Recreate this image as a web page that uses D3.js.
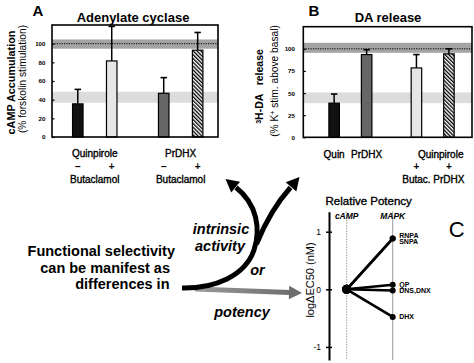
<!DOCTYPE html>
<html><head><meta charset="utf-8">
<script src="https://cdn.jsdelivr.net/npm/d3@7"></script>
<style>
body{margin:0;background:#fff}
svg{display:block}
text{font-family:"Liberation Sans",Arial,Helvetica,sans-serif;fill:#000}
.semi{stroke:#000;stroke-width:0.35px}
</style>
</head><body>
<svg id="c" width="474" height="363"></svg>
<script>
// ---------------- DATA ----------------
// Panel A: Adenylate cyclase (cAMP accumulation, % forskolin stimulation)
const groupsA   = ["Quinpirole", "Quinpirole", "PrDHX", "PrDHX"];
const butacA    = ["–", "+", "–", "+"];
const valuesA   = [35.5, 81.5, 46.8, 93];
const errorsA   = [15.5, 37, 16.8, 19];
const ticksA    = [0, 20, 40, 60, 80, 100];
const bandLowA  = [36.7, 48.5];
const bandHighA = [94.6, 104.5];

// Panel B: DA release (% K+ stim. above basal)
const groupsB   = ["single", "single", "Quinpirole", "Quinpirole"];
const labelsB   = ["Quin", "PrDHX", "+", "+"];
const subLabelsB= ["", "", "Butac.", "PrDHX"];
const valuesB   = [38.6, 93.5, 78.4, 94.3];
const errorsB   = [10.3, 5.5, 15.1, 5.7];
const ticksB    = [0, 25, 50, 75, 100];
const bandLowB  = [38.6, 50.7];
const bandHighB = [95.5, 106.8];

// Panel C: Relative potency (logΔEC50, nM)
const assaysC   = ["cAMP", "MAPK"];
const compoundsC= ["RNPA", "SNPA", "QP", "DNS,DNX", "DHX"];
const campC     = [0, 0, 0, 0, 0];
const mapkC     = [0.88, 0.88, 0.08, -0.02, -0.48];
const ticksC    = [-1, 0, 1];

// ---------------- STYLE ----------------
const FONT = '"Liberation Sans",Arial,Helvetica,sans-serif';
const fillsA = ["#111", "#e6e6e6", "#666", "url(#hatch)"];
const fillsB = ["#111", "#666", "#e6e6e6", "url(#hatch)"];

const svg = d3.select("#c");
const defs = svg.append("defs");
const pat = defs.append("pattern").attr("id", "hatch")
  .attr("patternUnits", "userSpaceOnUse").attr("width", 2.7).attr("height", 2.7)
  .attr("patternTransform", "rotate(-45)");
pat.append("rect").attr("width", 2.7).attr("height", 2.7).attr("fill", "#fff");
pat.append("line").attr("x1", 0.65).attr("y1", 0).attr("x2", 0.65).attr("y2", 2.7)
  .attr("stroke", "#000").attr("stroke-width", 1.3);

const grad = defs.append("linearGradient").attr("id", "gpot")
  .attr("x1", "0%").attr("x2", "100%").attr("y1", "0%").attr("y2", "0%");
grad.append("stop").attr("offset", "0%").attr("stop-color", "#9a9a9a");
grad.append("stop").attr("offset", "100%").attr("stop-color", "#6e6e6e");

function barPanel(cfg) {
  const g = svg.append("g");
  const y = d3.scaleLinear().domain([0, cfg.ymax]).range([cfg.bottom, cfg.top]);
  const uniq = Array.from(new Set(cfg.groups));
  const outer = d3.scalePoint().domain(uniq).range([cfg.left, cfg.right])
    .padding(cfg.pad).align(cfg.align);
  const inner = d3.scalePoint().domain([0, 1])
    .range([-outer.step() * 0.395 / 2, outer.step() * 0.395 / 2]);
  const idx = cfg.groups.map((gr, i) => cfg.groups.slice(0, i).filter(v => v === gr).length);
  const xs = cfg.values.map((v, i) => outer(cfg.groups[i]) + inner(idx[i]));
  const bw = 10.5;

  // bands
  g.append("rect").attr("x", cfg.left).attr("width", cfg.right - cfg.left)
    .attr("y", y(cfg.bandHigh[1])).attr("height", y(cfg.bandHigh[0]) - y(cfg.bandHigh[1]))
    .attr("fill", "#a4a4a4");
  g.append("rect").attr("x", cfg.left).attr("width", cfg.right - cfg.left)
    .attr("y", y(cfg.bandLow[1])).attr("height", y(cfg.bandLow[0]) - y(cfg.bandLow[1]))
    .attr("fill", "#dcdcdc");
  g.append("line").attr("x1", cfg.left).attr("x2", cfg.right)
    .attr("y1", y(100)).attr("y2", y(100))
    .attr("stroke", "#000").attr("stroke-width", 1).attr("stroke-dasharray", "1.2,1.2");

  // error bars
  cfg.values.forEach((v, i) => {
    g.append("line").attr("x1", xs[i]).attr("x2", xs[i]).attr("y1", y(v))
      .attr("y2", y(v + cfg.errors[i])).attr("stroke", "#000").attr("stroke-width", 1.5);
    g.append("line").attr("x1", xs[i] - 3.2).attr("x2", xs[i] + 3.2)
      .attr("y1", y(v + cfg.errors[i])).attr("y2", y(v + cfg.errors[i]))
      .attr("stroke", "#000").attr("stroke-width", 1.6);
  });
  // bars
  g.selectAll("rect.bar").data(cfg.values).join("rect").attr("class", "bar")
    .attr("x", (d, i) => xs[i] - bw / 2).attr("width", bw)
    .attr("y", d => y(d)).attr("height", d => y(0) - y(d))
    .attr("fill", (d, i) => cfg.fills[i]).attr("stroke", "#000").attr("stroke-width", 1.2);

  // frame
  g.append("rect").attr("x", cfg.left).attr("y", cfg.top)
    .attr("width", cfg.right - cfg.left).attr("height", cfg.bottom - cfg.top)
    .attr("fill", "none").attr("stroke", "#000").attr("stroke-width", 1.6);

  // axis
  const ax = g.append("g").attr("transform", `translate(${cfg.left},0)`)
    .call(d3.axisLeft(y).tickValues(cfg.ticks).tickSizeInner(-2.5).tickSizeOuter(0)
      .tickPadding(cfg.tickPad).tickFormat(d => String(d)));
  ax.select(".domain").remove();
  ax.selectAll("line").attr("stroke", "#000").attr("stroke-width", 1.2);
  ax.selectAll("text").attr("font-family", FONT).attr("font-size", 6.2)
    .attr("font-weight", "bold").attr("fill", "#000");
  return { g, xs, outer, y };
}

// ---------------- PANEL A ----------------
const A = barPanel({ left: 52, right: 218, top: 25, bottom: 137, ymax: 120,
  ticks: ticksA, groups: groupsA, values: valuesA, errors: errorsA, fills: fillsA,
  bandLow: bandLowA, bandHigh: bandHighA, pad: 0.466, align: 0.534, tickPad: 6.5 });
Array.from(new Set(groupsA)).forEach(gr => {
  svg.append("text").attr("class", "semi").attr("x", A.outer(gr)).attr("y", 156.5).attr("text-anchor", "middle")
    .attr("font-size", 10).text(gr);
  svg.append("text").attr("class", "semi").attr("x", A.outer(gr)).attr("y", 182.5).attr("text-anchor", "middle")
    .attr("font-size", 10).text("Butaclamol");
});
butacA.forEach((s, i) => svg.append("text").attr("x", A.xs[i]).attr("y", 169.5)
  .attr("text-anchor", "middle").attr("font-size", 10).attr("font-weight", "bold").text(s));
svg.append("text").attr("x", 133).attr("y", 21.5).attr("text-anchor", "middle")
  .attr("font-size", 13).attr("font-weight", "bold").text("Adenylate cyclase");
svg.append("text").attr("x", 38).attr("y", 16).attr("text-anchor", "middle")
  .attr("font-size", 15).attr("font-weight", "bold").text("A");
svg.append("text").attr("transform", "translate(14.5,82.5) rotate(-90)").attr("text-anchor", "middle")
  .attr("font-size", 10.8).attr("font-weight", "bold").text("cAMP Accumulation");
svg.append("text").attr("transform", "translate(25.8,79) rotate(-90)").attr("text-anchor", "middle")
  .attr("font-size", 10.2).text("(% forskolin stimulation)");

// ---------------- PANEL B ----------------
const B = barPanel({ left: 303.3, right: 472, top: 26.7, bottom: 137.3, ymax: 125,
  ticks: ticksB, groups: groupsB, values: valuesB, errors: errorsB, fills: fillsB,
  bandLow: bandLowB, bandHigh: bandHighB, pad: 0.525, align: 0.545, tickPad: 8.3 });
labelsB.forEach((s, i) => {
  const isSub = subLabelsB[i] !== "";
  svg.append("text").attr("class", isSub ? null : "semi").attr("x", B.xs[i]).attr("y", isSub ? 169.5 : 158)
    .attr("text-anchor", "middle").attr("font-size", 10)
    .attr("font-weight", isSub ? "bold" : "normal").text(s);
  if (isSub) svg.append("text").attr("class", "semi").attr("x", B.xs[i]).attr("y", 183)
    .attr("text-anchor", "middle").attr("font-size", 10).text(subLabelsB[i]);
});
svg.append("text").attr("class", "semi").attr("x", B.outer("Quinpirole") + 8).attr("y", 158)
  .attr("text-anchor", "middle").attr("font-size", 10).text("Quinpirole");
svg.append("text").attr("x", 388).attr("y", 21.5).attr("text-anchor", "middle")
  .attr("font-size", 13).attr("font-weight", "bold").text("DA release");
svg.append("text").attr("x", 314).attr("y", 15.5).attr("text-anchor", "middle")
  .attr("font-size", 15).attr("font-weight", "bold").text("B");
{
  const t = svg.append("text").attr("transform", "translate(263,86.5) rotate(-90)")
    .attr("text-anchor", "middle").attr("font-size", 10.5).attr("font-weight", "bold")
    .style("white-space", "pre");
  t.append("tspan").attr("font-size", 7).attr("baseline-shift", "35%").text("3");
  t.append("tspan").text("H-DA   release");
  const t2 = svg.append("text").attr("transform", "translate(277.5,81) rotate(-90)")
    .attr("text-anchor", "middle").attr("font-size", 10.2);
  t2.append("tspan").text("(% K");
  t2.append("tspan").attr("font-size", 7).attr("baseline-shift", "40%").text("+");
  t2.append("tspan").text(" stim. above basal)");
}

// ---------------- PANEL C ----------------
const yC = d3.scaleLinear().domain([-1.227, 1.347]).range([360, 211.7]);
const xC = d3.scalePoint().domain(assaysC).range([346.7, 392.7]);
const axC = 329;
assaysC.forEach(a => {
  svg.append("line").attr("x1", xC(a)).attr("x2", xC(a)).attr("y1", 211.5).attr("y2", 360)
    .attr("stroke", "#9a9a9a").attr("stroke-width", 1)
    .attr("stroke-dasharray", a === "cAMP" ? "1.5,1.2" : null);
  svg.append("text").attr("x", xC(a)).attr("y", 219.3).attr("text-anchor", "middle")
    .attr("font-size", 8.5).attr("font-weight", "bold").attr("font-style", "italic").text(a);
});
const axisC = svg.append("g").attr("transform", `translate(${axC},0)`)
  .call(d3.axisLeft(yC).tickValues(ticksC).tickSizeInner(3).tickSizeOuter(0)
    .tickPadding(5).tickFormat(d => String(d)));
axisC.select(".domain").attr("stroke", "#000").attr("stroke-width", 2);
axisC.selectAll(".tick line").attr("x1", 3).attr("stroke", "#000").attr("stroke-width", 1.5);
axisC.selectAll("text").attr("font-family", FONT).attr("font-size", 8.5).attr("fill", "#000");

compoundsC.forEach((c, i) => {
  svg.append("line").attr("x1", xC("cAMP")).attr("y1", yC(campC[i]))
    .attr("x2", xC("MAPK")).attr("y2", yC(mapkC[i]))
    .attr("stroke", "#000").attr("stroke-width", 2.6);
});
compoundsC.forEach((c, i) => {
  svg.append("circle").attr("cx", xC("cAMP")).attr("cy", yC(campC[i])).attr("r", 4.6).attr("fill", "#000");
  svg.append("circle").attr("cx", xC("MAPK")).attr("cy", yC(mapkC[i])).attr("r", 3).attr("fill", "#000");
});
// labels with simple collision spreading
{
  const labs = compoundsC.map((c, i) => ({ c, y: yC(mapkC[i]) })).sort((a, b) => a.y - b.y);
  const minGap = 5.5;
  let groups = [];
  labs.forEach(l => {
    const last = groups[groups.length - 1];
    if (last && Math.abs(last[last.length - 1].y - l.y) < 0.5) last.push(l); else groups.push([l]);
  });
  groups.forEach(gr => {
    const m = d3.mean(gr, d => d.y);
    gr.forEach((l, k) => {
      svg.append("text").attr("x", xC("MAPK") + 6.5).attr("y", m + (k - (gr.length - 1) / 2) * minGap)
        .attr("dy", "0.35em").attr("font-size", 7).attr("font-weight", "bold").text(l.c);
    });
  });
}
svg.append("text").attr("class", "semi").attr("x", 368.7).attr("y", 205).attr("text-anchor", "middle")
  .attr("font-size", 11.5).text("Relative Potency");
svg.append("text").attr("x", 456.7).attr("y", 236.5).attr("text-anchor", "middle")
  .attr("font-size", 22).text("C");
svg.append("text").attr("transform", "translate(313.5,280) rotate(-90)").attr("text-anchor", "middle")
  .attr("font-size", 11).text("logΔEC50 (nM)");

// ---------------- SCHEMATIC ----------------
function arrowHead(tip, from, len, half, fill) {
  const dx = tip[0] - from[0], dy = tip[1] - from[1];
  const L = Math.hypot(dx, dy), ux = dx / L, uy = dy / L;
  const bx = tip[0] - ux * len, by = tip[1] - uy * len;
  svg.append("path").attr("d",
    `M${tip[0]},${tip[1]} L${bx - uy * half},${by + ux * half} L${bx + uy * half},${by - ux * half} Z`)
    .attr("fill", fill);
}
// potency (gray)
svg.append("path").attr("d", "M195,289 L290,292.6").attr("stroke", "url(#gpot)")
  .attr("stroke-width", 5).attr("fill", "none");
arrowHead([302, 293], [290, 292.6], 13, 6.8, "#6e6e6e");
// intrinsic activity (black, forked)
svg.append("path").attr("d", "M182,288 C215,288.5 245,276 254,250 C261,229 257,204 236,187.5")
  .attr("stroke", "#000").attr("stroke-width", 5).attr("fill", "none");
arrowHead([225.5, 179], [236, 187.5], 13, 7, "#000");
svg.append("path").attr("d", "M256.5,244 C263,228 272,208 290.5,187.5")
  .attr("stroke", "#000").attr("stroke-width", 5).attr("fill", "none");
arrowHead([299.5, 177], [290.5, 187.5], 13, 7, "#000");

const mainLines = ["Functional selectivity", "can be manifest as", "differences in"];
const mainX = [175, 170, 169.5], mainY = [255.7, 272.7, 289.3];
mainLines.forEach((s, i) => svg.append("text").attr("x", mainX[i]).attr("y", mainY[i])
  .attr("text-anchor", "end").attr("font-size", 14.5).attr("font-weight", "bold").text(s));
[["intrinsic", 221, 234], ["activity", 220, 251], ["or", 257.5, 275], ["potency", 242, 317.3]]
  .forEach(([s, x, y]) => svg.append("text").attr("x", x).attr("y", y).attr("text-anchor", "middle")
    .attr("font-size", 14.5).attr("font-weight", "bold").attr("font-style", "italic").text(s));
</script>
</body></html>
